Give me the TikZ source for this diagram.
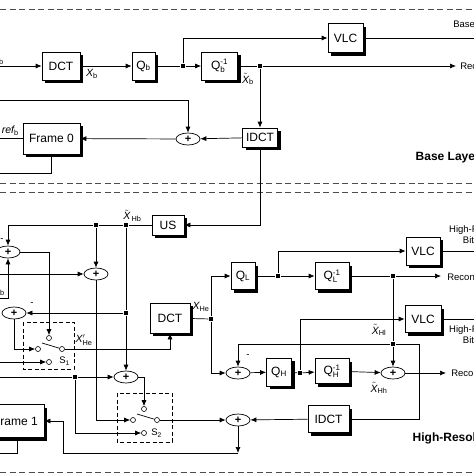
\documentclass[tikz,border=0pt]{standalone}
\usepackage{amsmath}
\usepackage{fontspec}
\setmainfont{Liberation Sans}
\usetikzlibrary{arrows.meta,shapes.geometric,shadows}
\begin{document}
\begin{tikzpicture}[
  x=1pt, y=-1pt,
  line width=0.7pt,
  blk/.style={rectangle, draw, fill=white, inner sep=0pt, font=\fontsize{12}{14}\selectfont,
    drop shadow={shadow xshift=3.2pt, shadow yshift=-3.2pt, opacity=1, fill=black}},
  add/.style={ellipse, draw, fill=white, minimum width=24, minimum height=12, inner sep=0pt, font=\bfseries\fontsize{11}{11}\selectfont},
  dot/.style={rectangle, fill, minimum size=4.5, inner sep=0pt},
  cnt/.style={circle, draw, fill=white, minimum size=5, inner sep=0pt, line width=0.6pt},
  lbl/.style={inner sep=1pt, font=\fontsize{9.5}{11}\selectfont},
  sym/.style={inner sep=1pt, font=\fontsize{10.5}{12}\selectfont},
  arr/.style={-{Latex[length=6pt,width=5pt]}},
  layer/.style={dash pattern=on 6pt off 3.5pt, line width=0.8pt, draw=black!70},
  swbox/.style={dash pattern=on 4pt off 2.5pt, line width=0.7pt}
]
\useasboundingbox (0,0) rectangle (474,474);
\clip (0,0) rectangle (474,474);

% Layer borders
\draw[layer] (0,9) -- (474,9);
\draw[layer] (0,183) -- (474,183);
\draw[layer] (0,192) -- (474,192);
\draw[layer] (0,472) -- (474,472);

% Base layer
\coordinate (inb) at (0,66);
\node[sym, anchor=south east] at (5,66) {$\textit{X}_{\text{b}}$};
\node[blk, minimum width=38, minimum height=28] (dctb) at (61,66) {DCT};
\node[blk, minimum width=23, minimum height=28] (qb) at (143.5,66) {Q$_{\text{b}}$};
\node[dot] (jqb) at (183,66) {};
\node[blk, minimum width=36, minimum height=28] (qbi) at (219.5,66) {Q$^{\text{-1}}_{\text{b}}$};
\node[blk, minimum width=35, minimum height=29] (vlcb) at (345.5,38) {VLC};
\node[dot] (jqbi) at (260,66) {};
\node[blk, minimum width=35, minimum height=19] (idctb) at (260,137.5) {IDCT};
\node[add] (addb) at (188,139) {+};
\node[blk, minimum width=57, minimum height=31] (frame0) at (51.5,138.5) {Frame 0};
\coordinate (outb) at (474,38);
\coordinate (recb) at (456,66);
\coordinate (inref) at (0,100);
\coordinate (refb) at (0,138.5);
\coordinate (f0out) at (0,173);

\node[sym] at (92,74) {$\textit{X}_{\text{b}}$};
\node[sym] at (248,79) {$\tilde{\textit{X}}_{\text{b}}$};
\node[lbl, anchor=west] at (452,25) {Base Layer Bitstream};
\node[lbl, anchor=west] at (459,66) {Reconstructed};
\node[sym, anchor=south east] at (20,137) {$\textit{ref}_{\text{b}}$};
\node[font=\bfseries\fontsize{12}{14}\selectfont, anchor=west] at (412,158) {Base Layer};

\draw[arr] (inb) -- (dctb);
\draw[arr] (dctb) -- (qb);
\draw (qb) -- (jqb);
\draw[arr] (jqb) -- (qbi);
\draw[arr] (jqb) |- (vlcb);
\draw (vlcb) -- (outb);
\draw (qbi) -- (jqbi);
\draw[arr] (jqbi) -- (recb);
\draw[arr] (jqbi) -- (idctb);
\draw[arr] (idctb) -- (addb);
\draw[arr] (inref) -| (addb);
\draw[arr] (addb) -- (frame0);
\draw (frame0) -- (refb);
\draw (frame0.south) |- (f0out);

% High-resolution layer
\node[blk, minimum width=32, minimum height=20] (us) at (168,225) {US};
\node[dot] (j1) at (96,225) {};
\node[dot] (j2) at (126,225) {};
\node[dot] (j3) at (126,313) {};
\node[add] (a1) at (8,252) {+};
\node[add] (a2) at (96,274) {+};
\node[add] (a3) at (14,313) {+};
\node[add] (a4) at (126,377) {+};
\node[dot] (jin4) at (75,377) {};
\coordinate (xhb) at (0,298);
\coordinate (in2) at (0,274);
\coordinate (ins1) at (0,362);
\coordinate (in4) at (0,377);

\node[sym, anchor=south west] at (122,223) {$\tilde{\textit{X}}_{\text{\,Hb}}$};
\node[sym, anchor=south east] at (6,297) {$\tilde{\textit{X}}_{\text{Hb}}$};
\node[lbl] at (2,240) {-};
\node[lbl] at (32,304) {-};

% Switch S1
\draw[swbox] (23,322) rectangle (74,369);
\node[cnt] (s1t) at (49,338) {};
\node[cnt] (s1l) at (38,349) {};
\node[cnt] (s1r) at (62,349) {};
\node[cnt] (s1b) at (49,362) {};
\draw (s1r) -- ++(-20,-6);
\node[lbl, anchor=west] at (58,361) {S$_{\text{1}}$};

% Switch S2
\draw[swbox] (117,393) rectangle (172,442);
\node[cnt] (s2t) at (144,409) {};
\node[cnt] (s2l) at (133,420) {};
\node[cnt] (s2r) at (157,420) {};
\node[cnt] (s2b) at (144,433) {};
\draw (s2r) -- ++(-20,-6);
\node[lbl, anchor=west] at (150,433) {S$_{\text{2}}$};

\node[blk, minimum width=40, minimum height=30] (dcth) at (170,318) {DCT};
\node[dot] (jdct) at (211,319) {};
\node[blk, minimum width=24, minimum height=27] (ql) at (243,276) {Q$_{\text{L}}$};
\node[dot] (jql) at (278,276) {};
\node[blk, minimum width=34, minimum height=27] (qli) at (332,276) {Q$^{\text{-1}}_{\text{L}}$};
\node[dot] (jqli) at (393,276) {};
\node[blk, minimum width=34, minimum height=28] (vlch1) at (423,251) {VLC};
\node[blk, minimum width=36, minimum height=27] (vlch2) at (423,319) {VLC};
\node[dot] (jxhl) at (393,344) {};
\node[add] (a5) at (238,373) {+};
\node[blk, minimum width=25, minimum height=28] (qh) at (279,372) {Q$_{\text{H}}$};
\node[dot] (jqh) at (300,373) {};
\node[blk, minimum width=34, minimum height=25] (qhi) at (332,371) {Q$^{\text{-1}}_{\text{H}}$};
\node[add] (a6) at (393,373) {+};
\node[blk, minimum width=41, minimum height=27] (idcth) at (328.5,419) {IDCT};
\node[add] (a7) at (238,420) {+};
\node[blk, minimum width=57, minimum height=33] (frame1) at (15.5,421) {Frame 1};
\coordinate (outh1) at (474,251);
\coordinate (outh2) at (474,319);
\coordinate (rech1) at (441,276);
\coordinate (rech2) at (446,373);
\coordinate (fbk) at (419,344);
\coordinate (lp1) at (238,453);
\coordinate (lp2) at (63,453);
\coordinate (f1out) at (0,453);

\node[sym] at (84,340) {$\textit{X}'_{\text{He}}$};
\node[sym] at (201,307) {$\textit{X}_{\text{He}}$};
\node[sym] at (379,330) {$\tilde{\textit{X}}_{\text{Hl}}$};
\node[sym] at (379,388) {$\tilde{\textit{X}}_{\text{Hh}}$};
\node[lbl] at (248,356) {-};
\node[lbl, align=center, anchor=south] at (483,245) {High-Frequency\\Bitstream};
\node[lbl, align=center, anchor=north] at (483,324) {High-Frequency\\Bitstream};
\node[lbl, anchor=west] at (446,277) {Reconstructed};
\node[lbl, anchor=west] at (450,373) {Reconstructed};
\node[font=\bfseries\fontsize{12}{14}\selectfont, anchor=west] at (409,438) {High-Resolution Layer};

% Arrows
\draw[arr] (idctb) |- (us);
\draw (us) -- (j2) -- (j1);
\draw[arr] (j1) -| (a1);
\draw[arr] (xhb) -| (a1);
\draw[arr] (a1) -| (s1t);
\draw[arr] (j1) -- (a2);
\draw[arr] (in2) -- (a2);
\draw[arr] (a2) |- (s2l);
\draw (j2) -- (j3);
\draw[arr] (j3) -- (a3);
\draw[arr] (j3) -- (a4);
\draw[arr] (a3) |- (s1l);
\draw[arr] (ins1) -- (s1b);
\draw[arr] (s1r) -| (dcth);
\draw (in4) -- (jin4);
\draw[arr] (jin4) -- (a4);
\draw[arr] (jin4) |- (s2b);
\draw[arr] (a4) -| (s2t);
\draw (dcth) -- (jdct);
\draw[arr] (jdct) |- (ql);
\draw[arr] (jdct) |- (a5);
\draw (ql) -- (jql);
\draw[arr] (jql) -- (qli);
\draw[arr] (jql) |- (vlch1);
\draw (vlch1) -- (outh1);
\draw (qli) -- (jqli);
\draw[arr] (jqli) -- (rech1);
\draw (jqli) -- (jxhl);
\draw[arr] (jxhl) -- (a6);
\draw[arr] (jxhl) -| (a5);
\draw (jxhl) -- (fbk) |- (idcth);
\draw[arr] (a5) -- (qh);
\draw (qh) -- (jqh);
\draw[arr] (jqh) -- (qhi);
\draw[arr] (jqh) |- (vlch2);
\draw (vlch2) -- (outh2);
\draw[arr] (qhi) -- (a6);
\draw[arr] (a6) -- (rech2);
\draw[arr] (idcth) -- (a7);
\draw[arr] (s2r) -- (a7);
\draw[arr] (a7) -- (lp1);
\draw[arr] (lp1) -- (lp2) |- (frame1);
\draw ([xshift=1.5]frame1.south) |- (f1out);
\end{tikzpicture}
\end{document}
